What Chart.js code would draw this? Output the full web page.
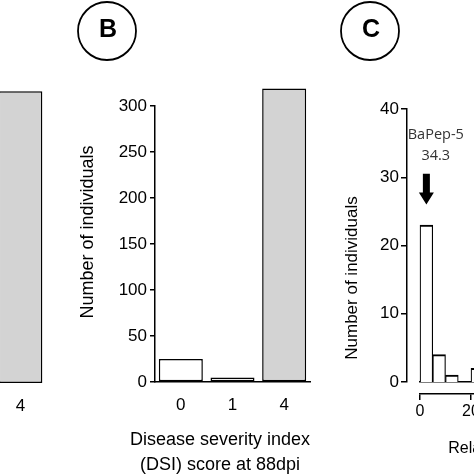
<!DOCTYPE html>
<html><head><meta charset="utf-8">
<script src="https://cdn.jsdelivr.net/npm/chart.js@4.4.1/dist/chart.umd.min.js"></script>
<style>
html,body{margin:0;padding:0;background:#fff;width:474px;height:474px;overflow:hidden;}
#wrap{position:relative;width:474px;height:474px;overflow:hidden;background:#fff;}
canvas{position:absolute;}
</style></head><body>
<div id="wrap">
<canvas id="cA" width="150" height="474" style="left:-100px;top:0px"></canvas>
<canvas id="cB" width="474" height="492" style="left:0px;top:-14px"></canvas>
<canvas id="cCy" width="174" height="474" style="left:300px;top:0px"></canvas>
<canvas id="cC" width="360" height="474" style="left:300px;top:0px"></canvas>
</div>
<script>
// ---- data ----
const panelA_categories = ['4'];
const panelA_counts = [316];

const panelB_categories = ['0', '1', '4'];
const panelB_counts = [25, 5, 319];
const panelB_fill = ['#ffffff', '#ffffff', '#d3d3d3'];
const panelB_yTicks = [0, 50, 100, 150, 200, 250, 300];
const panelB_xTitle = ['Disease severity index', '(DSI) score at 88dpi'];
const yTitle = 'Number of individuals';

const panelC_binStarts = [0, 5, 10, 15, 20];
const panelC_counts = [23, 4, 1, 0, 2];
const panelC_binWidth = 5;
const panelC_yTicks = [0, 10, 20, 30, 40];
const panelC_xTicks = [0, 20, 40, 60, 80];
const panelC_xTitle = 'Relative AUDPC (%)';
const panelC_annotation = ['BaPep-5', '34.3'];
const panelC_annotY = [36.2, 33.1];
const panelC_annotX = 6.2;
const panelC_arrowBin = 0;
const panelC_arrowFrom = 30.5;
const panelC_arrowTo = 26;

Chart.defaults.font.family = '"Liberation Sans", Arial, sans-serif';
Chart.defaults.color = '#000';

function circleLabel(letter, cx, cy) {
  return {
    id: 'circle' + letter,
    afterDraw(chart) {
      const ctx = chart.ctx;
      ctx.save();
      ctx.beginPath();
      ctx.arc(cx, cy, 29, 0, Math.PI * 2);
      ctx.lineWidth = 1.8;
      ctx.strokeStyle = '#000';
      ctx.stroke();
      ctx.font = 'bold 25px "Liberation Sans", Arial, sans-serif';
      ctx.fillStyle = '#000';
      ctx.textAlign = 'center';
      ctx.textBaseline = 'middle';
      ctx.fillText(letter, cx + 1, cy - 1);
      ctx.restore();
    }
  };
}

const setTicks = arr => s => { s.ticks = arr.map(v => ({ value: v })); };
const hiddenAxis = (extra) => Object.assign({
  display: true, grid: { display: false, drawTicks: false }, border: { display: false }, ticks: { display: false }
}, extra);

// ---- panel A (partially visible) ----
new Chart(document.getElementById('cA'), {
  type: 'bar',
  data: { labels: panelA_categories, datasets: [{
    data: panelA_counts, backgroundColor: '#d3d3d3', borderColor: '#000',
    borderWidth: 1.5, borderSkipped: false, barPercentage: 0.857, categoryPercentage: 1, clip: false }] },
  options: {
    responsive: false, animation: false,
    layout: { padding: { left: 95, right: 4, top: 106, bottom: 0 } },
    plugins: { legend: { display: false }, tooltip: { enabled: false } },
    scales: {
      x: { grid: { display: false, drawTicks: false }, border: { display: false },
           ticks: { color: '#000', font: { size: 17 }, padding: 13 },
           afterFit: s => { s.height = 91; } },
      y: { display: false, min: 0, max: 300 }
    }
  }
});

// ---- panel B ----  (canvas shifted 14px up: page y = canvas y - 14)
new Chart(document.getElementById('cB'), {
  type: 'bar',
  data: { labels: panelB_categories, datasets: [{
    data: panelB_counts, backgroundColor: panelB_fill, borderColor: '#000',
    borderWidth: 1.5, borderSkipped: false, barPercentage: 0.852, categoryPercentage: 1, clip: false }] },
  options: {
    responsive: false, animation: false,
    layout: { padding: { left: 0, right: 34, top: 0, bottom: 0 } },
    plugins: {
      legend: { display: false }, tooltip: { enabled: false },
      title: { display: true, position: 'bottom', text: panelB_xTitle, color: '#000',
               font: { size: 18, weight: 'normal', lineHeight: '25px' }, padding: { top: 0, bottom: 0 } },
      subtitle: { display: true, position: 'left', text: yTitle, color: '#000',
                  font: { size: 18, weight: 'normal' }, padding: { top: 77.2, bottom: 0 } }
    },
    scales: {
      x: { grid: { display: false, drawTicks: false },
           border: { display: true, color: '#000', width: 1.5 },
           ticks: { color: '#000', font: { size: 17 }, padding: 13 },
           afterFit: s => { s.height = 46; } },
      xTop: hiddenAxis({ type: 'category', axis: 'x', position: 'top', afterFit: s => { s.height = 120; } }),
      y: { min: 0, max: 300, afterBuildTicks: setTicks(panelB_yTicks),
           grid: { display: true, drawOnChartArea: false, drawTicks: true, tickLength: 5, color: '#000', lineWidth: 1.5 },
           border: { display: true, color: '#000', width: 1.5 },
           ticks: { color: '#000', font: { size: 17 }, padding: 3 },
           afterFit: s => { s.width = 56.2; } },
      yR: hiddenAxis({ type: 'linear', axis: 'y', position: 'right', afterFit: s => { s.width = 130; } })
    }
  },
  plugins: [circleLabel('B', 107, 45)]
});

// ---- panel C : y axis ----
new Chart(document.getElementById('cCy'), {
  type: 'bar',
  data: { labels: [], datasets: [] },
  options: {
    responsive: false, animation: false,
    layout: { padding: { left: 0, right: 0, top: 109, bottom: 27 } },
    plugins: {
      legend: { display: false }, tooltip: { enabled: false },
      title: { display: true, position: 'left', text: yTitle, color: '#000',
               font: { size: 17, weight: 'normal' }, padding: { top: 41.8, bottom: 0 } }
    },
    scales: {
      x: hiddenAxis({ afterFit: s => { s.height = 65; } }),
      y: { min: 0, max: 40, afterBuildTicks: setTicks(panelC_yTicks),
           grid: { display: true, drawOnChartArea: false, drawTicks: true, tickLength: 6, color: '#000', lineWidth: 1.5 },
           border: { display: true, color: '#000', width: 1.5 },
           ticks: { color: '#000', font: { size: 17 }, padding: 2 },
           afterFit: s => { s.width = 44.8; } }
    }
  },
  plugins: [circleLabel('C', 70, 31)]
});

// ---- panel C : histogram ----
const histData = panelC_binStarts.map((s, i) => ({ x: s + panelC_binWidth / 2, y: panelC_counts[i] }));

const arrowAnnot = {
  id: 'arrowAnnot',
  afterDatasetsDraw(chart) {
    const { ctx } = chart;
    const x = chart.scales.x, y = chart.scales.y;
    const ax = x.getPixelForValue(panelC_binStarts[panelC_arrowBin] + panelC_binWidth / 2);
    const yTop = y.getPixelForValue(panelC_arrowFrom);
    const yTip = y.getPixelForValue(panelC_arrowTo);
    const sw = 3.5, hw = 7.5, hh = 12;
    ctx.save();
    ctx.fillStyle = '#000';
    ctx.beginPath();
    ctx.moveTo(ax - sw, yTop);
    ctx.lineTo(ax + sw, yTop);
    ctx.lineTo(ax + sw, yTip - hh);
    ctx.lineTo(ax + hw, yTip - hh);
    ctx.lineTo(ax, yTip);
    ctx.lineTo(ax - hw, yTip - hh);
    ctx.lineTo(ax - sw, yTip - hh);
    ctx.closePath();
    ctx.fill();
    ctx.font = '14.5px "Open Sans", sans-serif';
    ctx.fillStyle = '#333';
    ctx.textAlign = 'center';
    ctx.textBaseline = 'middle';
    const tx = x.getPixelForValue(panelC_annotX);
    panelC_annotation.forEach((t, i) => ctx.fillText(t, tx, y.getPixelForValue(panelC_annotY[i])));
    ctx.restore();
  }
};

new Chart(document.getElementById('cC'), {
  type: 'bar',
  data: { datasets: [{
    data: histData, backgroundColor: '#ffffff', borderColor: '#000',
    borderWidth: { top: 2, left: 1.2, right: 1.2, bottom: 0 }, borderSkipped: false,
    barPercentage: 1, categoryPercentage: 1, clip: false }] },
  options: {
    responsive: false, animation: false,
    layout: { padding: { left: 120, right: 36, top: 109, bottom: 10 } },
    plugins: { legend: { display: false }, tooltip: { enabled: false } },
    scales: {
      x: { type: 'linear', min: 0, max: 80, weight: 0, offset: false,
           grid: { display: false, drawTicks: false, offset: false }, ticks: { display: false },
           border: { display: true, color: '#000', width: 1.5 },
           afterFit: s => { s.height = 12; } },
      x2: { type: 'linear', axis: 'x', position: 'bottom', min: 0, max: 80, weight: 1, offset: false,
            afterBuildTicks: setTicks(panelC_xTicks),
            grid: { display: true, drawOnChartArea: false, drawTicks: true, tickLength: 6, color: '#000', lineWidth: 1.5, offset: false },
            border: { display: true, color: '#000', width: 1.5 },
            ticks: { color: '#000', font: { size: 16 }, padding: 2 },
            title: { display: true, text: panelC_xTitle, color: '#000', font: { size: 16 }, padding: { top: 0, bottom: 6 } },
            afterFit: s => { s.height = 70; } },
      y: { display: false, min: 0, max: 40 }
    }
  },
  plugins: [arrowAnnot]
});
</script>
</body></html>
